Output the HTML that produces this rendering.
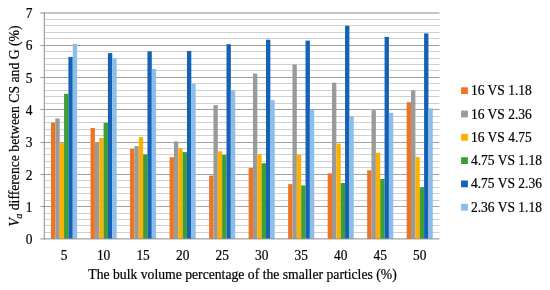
<!DOCTYPE html>
<html><head><meta charset="utf-8"><style>
html,body{margin:0;padding:0;background:#fff;}
svg{display:block;}
text{font-family:"Liberation Serif","Times New Roman",serif;fill:#000;stroke:#000;stroke-width:0.2px;}
.d{font-size:13.4px;}
.l{font-size:13.5px;}
.ti{font-size:13.7px;}
.tx{font-size:13.7px;}
</style></head><body>
<svg width="550" height="290" viewBox="0 0 550 290" xmlns="http://www.w3.org/2000/svg">
<rect width="550" height="290" fill="#fff"/>
<line x1="44.30" y1="232.50" x2="439.50" y2="232.50" stroke="#CFCFCF" stroke-width="1"/>
<line x1="44.30" y1="225.50" x2="439.50" y2="225.50" stroke="#CFCFCF" stroke-width="1"/>
<line x1="44.30" y1="219.50" x2="439.50" y2="219.50" stroke="#CFCFCF" stroke-width="1"/>
<line x1="44.30" y1="213.50" x2="439.50" y2="213.50" stroke="#CFCFCF" stroke-width="1"/>
<line x1="44.30" y1="200.50" x2="439.50" y2="200.50" stroke="#CFCFCF" stroke-width="1"/>
<line x1="44.30" y1="193.50" x2="439.50" y2="193.50" stroke="#CFCFCF" stroke-width="1"/>
<line x1="44.30" y1="187.50" x2="439.50" y2="187.50" stroke="#CFCFCF" stroke-width="1"/>
<line x1="44.30" y1="180.50" x2="439.50" y2="180.50" stroke="#CFCFCF" stroke-width="1"/>
<line x1="44.30" y1="167.50" x2="439.50" y2="167.50" stroke="#CFCFCF" stroke-width="1"/>
<line x1="44.30" y1="161.50" x2="439.50" y2="161.50" stroke="#CFCFCF" stroke-width="1"/>
<line x1="44.30" y1="154.50" x2="439.50" y2="154.50" stroke="#CFCFCF" stroke-width="1"/>
<line x1="44.30" y1="148.50" x2="439.50" y2="148.50" stroke="#CFCFCF" stroke-width="1"/>
<line x1="44.30" y1="135.50" x2="439.50" y2="135.50" stroke="#CFCFCF" stroke-width="1"/>
<line x1="44.30" y1="129.50" x2="439.50" y2="129.50" stroke="#CFCFCF" stroke-width="1"/>
<line x1="44.30" y1="122.50" x2="439.50" y2="122.50" stroke="#CFCFCF" stroke-width="1"/>
<line x1="44.30" y1="116.50" x2="439.50" y2="116.50" stroke="#CFCFCF" stroke-width="1"/>
<line x1="44.30" y1="103.50" x2="439.50" y2="103.50" stroke="#CFCFCF" stroke-width="1"/>
<line x1="44.30" y1="96.50" x2="439.50" y2="96.50" stroke="#CFCFCF" stroke-width="1"/>
<line x1="44.30" y1="90.50" x2="439.50" y2="90.50" stroke="#CFCFCF" stroke-width="1"/>
<line x1="44.30" y1="83.50" x2="439.50" y2="83.50" stroke="#CFCFCF" stroke-width="1"/>
<line x1="44.30" y1="70.50" x2="439.50" y2="70.50" stroke="#CFCFCF" stroke-width="1"/>
<line x1="44.30" y1="64.50" x2="439.50" y2="64.50" stroke="#CFCFCF" stroke-width="1"/>
<line x1="44.30" y1="58.50" x2="439.50" y2="58.50" stroke="#CFCFCF" stroke-width="1"/>
<line x1="44.30" y1="51.50" x2="439.50" y2="51.50" stroke="#CFCFCF" stroke-width="1"/>
<line x1="44.30" y1="38.50" x2="439.50" y2="38.50" stroke="#CFCFCF" stroke-width="1"/>
<line x1="44.30" y1="32.50" x2="439.50" y2="32.50" stroke="#CFCFCF" stroke-width="1"/>
<line x1="44.30" y1="25.50" x2="439.50" y2="25.50" stroke="#CFCFCF" stroke-width="1"/>
<line x1="44.30" y1="19.50" x2="439.50" y2="19.50" stroke="#CFCFCF" stroke-width="1"/>
<line x1="40.30" y1="206.50" x2="439.50" y2="206.50" stroke="#A0A0A0" stroke-width="1"/>
<line x1="40.30" y1="174.50" x2="439.50" y2="174.50" stroke="#A0A0A0" stroke-width="1"/>
<line x1="40.30" y1="142.50" x2="439.50" y2="142.50" stroke="#A0A0A0" stroke-width="1"/>
<line x1="40.30" y1="109.50" x2="439.50" y2="109.50" stroke="#A0A0A0" stroke-width="1"/>
<line x1="40.30" y1="77.50" x2="439.50" y2="77.50" stroke="#A0A0A0" stroke-width="1"/>
<line x1="40.30" y1="45.50" x2="439.50" y2="45.50" stroke="#A0A0A0" stroke-width="1"/>
<line x1="40.30" y1="13.00" x2="439.50" y2="13.00" stroke="#8A8A8A" stroke-width="1"/>
<rect x="51.01" y="122.60" width="4.35" height="116.30" fill="#EE7422"/>
<rect x="55.36" y="118.50" width="4.35" height="120.40" fill="#9A9A9A"/>
<rect x="59.71" y="143.10" width="4.35" height="95.80" fill="#FCB000"/>
<rect x="64.06" y="93.80" width="4.35" height="145.10" fill="#3C9E35"/>
<rect x="68.41" y="56.90" width="4.35" height="182.00" fill="#1462B6"/>
<rect x="72.76" y="43.80" width="4.35" height="195.10" fill="#8DBDE9"/>
<rect x="90.53" y="127.90" width="4.35" height="111.00" fill="#EE7422"/>
<rect x="94.88" y="142.40" width="4.35" height="96.50" fill="#9A9A9A"/>
<rect x="99.23" y="138.00" width="4.35" height="100.90" fill="#FCB000"/>
<rect x="103.58" y="122.80" width="4.35" height="116.10" fill="#3C9E35"/>
<rect x="107.93" y="53.10" width="4.35" height="185.80" fill="#1462B6"/>
<rect x="112.28" y="58.30" width="4.35" height="180.60" fill="#8DBDE9"/>
<rect x="130.05" y="148.90" width="4.35" height="90.00" fill="#EE7422"/>
<rect x="134.40" y="146.10" width="4.35" height="92.80" fill="#9A9A9A"/>
<rect x="138.75" y="137.20" width="4.35" height="101.70" fill="#FCB000"/>
<rect x="143.10" y="154.40" width="4.35" height="84.50" fill="#3C9E35"/>
<rect x="147.45" y="51.30" width="4.35" height="187.60" fill="#1462B6"/>
<rect x="151.80" y="69.00" width="4.35" height="169.90" fill="#8DBDE9"/>
<rect x="169.57" y="157.20" width="4.35" height="81.70" fill="#EE7422"/>
<rect x="173.92" y="141.40" width="4.35" height="97.50" fill="#9A9A9A"/>
<rect x="178.27" y="148.00" width="4.35" height="90.90" fill="#FCB000"/>
<rect x="182.62" y="152.10" width="4.35" height="86.80" fill="#3C9E35"/>
<rect x="186.97" y="51.00" width="4.35" height="187.90" fill="#1462B6"/>
<rect x="191.32" y="84.00" width="4.35" height="154.90" fill="#8DBDE9"/>
<rect x="209.09" y="175.60" width="4.35" height="63.30" fill="#EE7422"/>
<rect x="213.44" y="105.10" width="4.35" height="133.80" fill="#9A9A9A"/>
<rect x="217.79" y="151.30" width="4.35" height="87.60" fill="#FCB000"/>
<rect x="222.14" y="154.90" width="4.35" height="84.00" fill="#3C9E35"/>
<rect x="226.49" y="44.20" width="4.35" height="194.70" fill="#1462B6"/>
<rect x="230.84" y="90.40" width="4.35" height="148.50" fill="#8DBDE9"/>
<rect x="248.61" y="168.00" width="4.35" height="70.90" fill="#EE7422"/>
<rect x="252.96" y="73.60" width="4.35" height="165.30" fill="#9A9A9A"/>
<rect x="257.31" y="154.20" width="4.35" height="84.70" fill="#FCB000"/>
<rect x="261.66" y="163.20" width="4.35" height="75.70" fill="#3C9E35"/>
<rect x="266.01" y="39.70" width="4.35" height="199.20" fill="#1462B6"/>
<rect x="270.36" y="100.20" width="4.35" height="138.70" fill="#8DBDE9"/>
<rect x="288.13" y="184.10" width="4.35" height="54.80" fill="#EE7422"/>
<rect x="292.48" y="64.50" width="4.35" height="174.40" fill="#9A9A9A"/>
<rect x="296.83" y="154.90" width="4.35" height="84.00" fill="#FCB000"/>
<rect x="301.18" y="185.40" width="4.35" height="53.50" fill="#3C9E35"/>
<rect x="305.53" y="40.60" width="4.35" height="198.30" fill="#1462B6"/>
<rect x="309.88" y="109.90" width="4.35" height="129.00" fill="#8DBDE9"/>
<rect x="327.65" y="173.40" width="4.35" height="65.50" fill="#EE7422"/>
<rect x="332.00" y="82.70" width="4.35" height="156.20" fill="#9A9A9A"/>
<rect x="336.35" y="143.60" width="4.35" height="95.30" fill="#FCB000"/>
<rect x="340.70" y="183.00" width="4.35" height="55.90" fill="#3C9E35"/>
<rect x="345.05" y="25.80" width="4.35" height="213.10" fill="#1462B6"/>
<rect x="349.40" y="116.00" width="4.35" height="122.90" fill="#8DBDE9"/>
<rect x="367.17" y="170.30" width="4.35" height="68.60" fill="#EE7422"/>
<rect x="371.52" y="110.20" width="4.35" height="128.70" fill="#9A9A9A"/>
<rect x="375.87" y="152.70" width="4.35" height="86.20" fill="#FCB000"/>
<rect x="380.22" y="179.00" width="4.35" height="59.90" fill="#3C9E35"/>
<rect x="384.57" y="36.90" width="4.35" height="202.00" fill="#1462B6"/>
<rect x="388.92" y="112.90" width="4.35" height="126.00" fill="#8DBDE9"/>
<rect x="406.69" y="102.20" width="4.35" height="136.70" fill="#EE7422"/>
<rect x="411.04" y="90.20" width="4.35" height="148.70" fill="#9A9A9A"/>
<rect x="415.39" y="157.00" width="4.35" height="81.90" fill="#FCB000"/>
<rect x="419.74" y="187.20" width="4.35" height="51.70" fill="#3C9E35"/>
<rect x="424.09" y="33.40" width="4.35" height="205.50" fill="#1462B6"/>
<rect x="428.44" y="108.40" width="4.35" height="130.50" fill="#8DBDE9"/>
<line x1="44.30" y1="12.30" x2="44.30" y2="239.40" stroke="#8C8C8C" stroke-width="1"/>
<line x1="40.30" y1="238.90" x2="439.50" y2="238.90" stroke="#8C8C8C" stroke-width="1"/>
<text transform="translate(32.40,244.10) scale(1,1.01)" text-anchor="end" class="d">0</text>
<text transform="translate(32.40,211.80) scale(1,1.01)" text-anchor="end" class="d">1</text>
<text transform="translate(32.40,179.50) scale(1,1.01)" text-anchor="end" class="d">2</text>
<text transform="translate(32.40,147.20) scale(1,1.01)" text-anchor="end" class="d">3</text>
<text transform="translate(32.40,114.90) scale(1,1.01)" text-anchor="end" class="d">4</text>
<text transform="translate(32.40,82.60) scale(1,1.01)" text-anchor="end" class="d">5</text>
<text transform="translate(32.40,50.30) scale(1,1.01)" text-anchor="end" class="d">6</text>
<text transform="translate(32.40,18.00) scale(1,1.01)" text-anchor="end" class="d">7</text>
<text transform="translate(64.06,259.60) scale(1,1.01)" text-anchor="middle" class="d">5</text>
<text transform="translate(103.58,259.60) scale(1,1.01)" text-anchor="middle" class="d">10</text>
<text transform="translate(143.10,259.60) scale(1,1.01)" text-anchor="middle" class="d">15</text>
<text transform="translate(182.62,259.60) scale(1,1.01)" text-anchor="middle" class="d">20</text>
<text transform="translate(222.14,259.60) scale(1,1.01)" text-anchor="middle" class="d">25</text>
<text transform="translate(261.66,259.60) scale(1,1.01)" text-anchor="middle" class="d">30</text>
<text transform="translate(301.18,259.60) scale(1,1.01)" text-anchor="middle" class="d">35</text>
<text transform="translate(340.70,259.60) scale(1,1.01)" text-anchor="middle" class="d">40</text>
<text transform="translate(380.22,259.60) scale(1,1.01)" text-anchor="middle" class="d">45</text>
<text transform="translate(419.74,259.60) scale(1,1.01)" text-anchor="middle" class="d">50</text>
<text transform="translate(242.50,279.20) scale(1,1.01)" text-anchor="middle" class="tx">The bulk volume percentage of the smaller particles (%)</text>
<text transform="translate(19.2,126) rotate(-90) scale(1,1.01)" text-anchor="middle" class="ti"><tspan font-style="italic">V</tspan><tspan font-style="italic" font-size="9.5" dx="-0.3" dy="3">a</tspan><tspan dy="-3"> difference between CS and G (%)</tspan></text>
<rect x="461.1" y="87.30" width="6.8" height="6.8" fill="#EE7422"/>
<text transform="translate(471.00,95.20) scale(1,1.01)" class="l">16 VS 1.18</text>
<rect x="461.1" y="110.60" width="6.8" height="6.8" fill="#9A9A9A"/>
<text transform="translate(471.00,118.50) scale(1,1.01)" class="l">16 VS 2.36</text>
<rect x="461.1" y="133.90" width="6.8" height="6.8" fill="#FCB000"/>
<text transform="translate(471.00,141.80) scale(1,1.01)" class="l">16 VS 4.75</text>
<rect x="461.1" y="157.20" width="6.8" height="6.8" fill="#3C9E35"/>
<text transform="translate(471.00,165.10) scale(1,1.01)" class="l">4.75 VS 1.18</text>
<rect x="461.1" y="180.50" width="6.8" height="6.8" fill="#1462B6"/>
<text transform="translate(471.00,188.40) scale(1,1.01)" class="l">4.75 VS 2.36</text>
<rect x="461.1" y="203.80" width="6.8" height="6.8" fill="#8DBDE9"/>
<text transform="translate(471.00,211.70) scale(1,1.01)" class="l">2.36 VS 1.18</text>
</svg>
</body></html>
